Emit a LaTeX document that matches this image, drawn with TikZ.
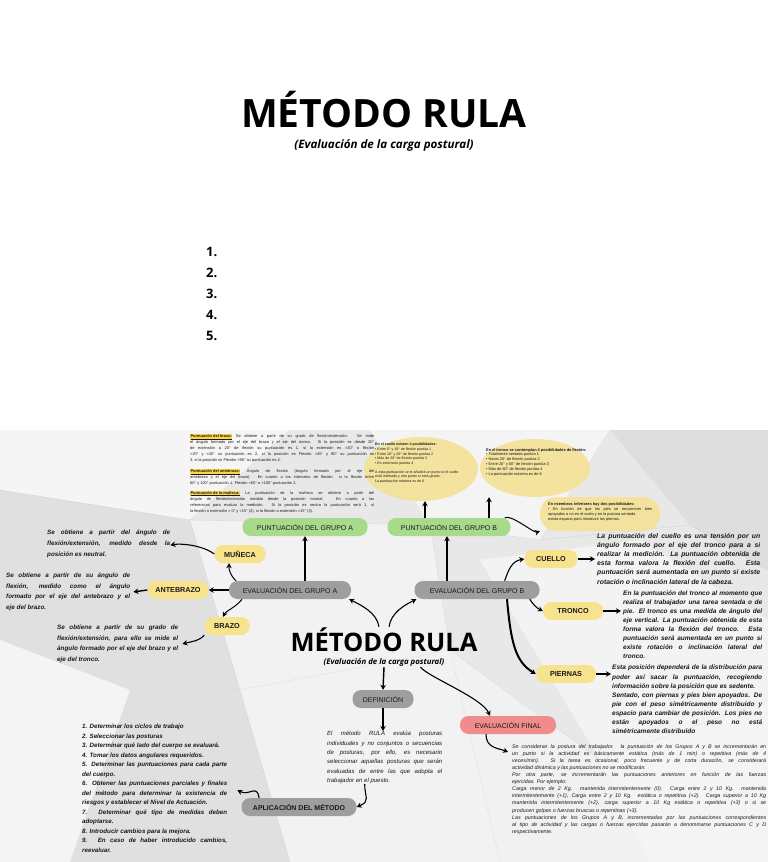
\documentclass[tikz,border=0pt]{standalone}
\usepackage{fontspec}
\setmainfont{Liberation Sans}
\newfontfamily\titlefont{Open Sans}
\usetikzlibrary{arrows.meta,shapes.geometric}
\hyphenpenalty=10000
\exhyphenpenalty=10000
\tolerance=10000
\definecolor{pyellow}{RGB}{247,226,142}
\definecolor{cyellow}{RGB}{244,226,150}
\definecolor{pgreen}{RGB}{168,218,140}
\definecolor{pgray}{RGB}{158,158,158}
\definecolor{pred}{RGB}{240,140,140}
\definecolor{hlyellow}{RGB}{250,215,70}
\definecolor{paper}{RGB}{232,232,232}
\definecolor{txt}{RGB}{25,25,25}
\newcommand{\hlh}[1]{{\setlength{\fboxsep}{0.4pt}\colorbox{hlyellow}{\textbf{\underline{#1}}}}}
\tikzset{
  pillbase/.style={rounded corners=8.5pt, minimum height=18pt, inner xsep=4pt, inner ysep=2pt, text=txt},
  ypill/.style={pillbase, fill=pyellow, font=\fontsize{7.2}{8}\selectfont\bfseries},
  gpill/.style={pillbase, fill=pgreen, font=\fontsize{7}{8}\selectfont},
  grpill/.style={pillbase, fill=pgray, font=\fontsize{7}{8}\selectfont},
  rpill/.style={pillbase, fill=pred, font=\fontsize{7}{8}\selectfont},
  desc/.style={anchor=north west, inner sep=0pt, align=justify, text=txt, font=\fontsize{6.3}{9.6}\selectfont\bfseries\itshape},
  tiny/.style={anchor=north west, inner sep=0pt, align=justify, text=txt},
  arr/.style={-{Stealth[length=5pt,width=5.5pt]}, line width=1.4pt, black},
  blob/.style={ellipse, fill=cyellow, opacity=0.9, draw=none}
}
\begin{document}
\begin{tikzpicture}[x=1pt,y=-1pt]
\path[use as bounding box] (0,0) rectangle (768,862);
\fill[white] (0,0) rectangle (768,430);
% ---------- top page ----------
\node[font=\titlefont\fontsize{39}{40}\selectfont\bfseries, text=black] (ttitle) at (384,110) {MÉTODO RULA};
\node[font=\titlefont\fontsize{11.6}{12}\selectfont\bfseries\itshape, text=black] (tsub) at (384,145) {(Evaluación de la carga postural)};
\foreach \i/\yy in {1/252,2/273,3/294,4/315,5/336}{
  \node[font=\titlefont\fontsize{13}{14}\selectfont\bfseries, anchor=west, inner sep=0pt] (num\i) at (206,\yy) {\i.};
}
% ---------- paper background ----------
\fill[paper] (0,430) rectangle (768,862);
\begin{scope}
\clip (0,430) rectangle (768,862);
\fill[white, opacity=0.6] (0,430) -- (290,430) -- (190,520) -- (0,490) -- cycle;
\fill[white, opacity=0.55] (370,430) -- (610,430) -- (540,540) -- (430,525) -- cycle;
\fill[black, opacity=0.04] (610,430) -- (768,430) -- (768,570) -- (690,525) -- cycle;
\fill[white, opacity=0.55] (0,640) -- (130,690) -- (70,862) -- (0,862) -- cycle;
\fill[white, opacity=0.45] (240,690) -- (450,650) -- (500,862) -- (290,862) -- cycle;
\fill[white, opacity=0.55] (600,760) -- (768,700) -- (768,862) -- (650,862) -- cycle;
\fill[black, opacity=0.03] (130,690) -- (240,690) -- (290,862) -- (70,862) -- cycle;
\fill[white, opacity=0.5] (480,560) -- (640,540) -- (768,620) -- (768,700) -- (600,760) -- cycle;
\fill[black, opacity=0.03] (0,490) -- (190,520) -- (240,690) -- (130,690) -- (0,640) -- cycle;
\fill[white, opacity=0.45] (190,520) -- (430,525) -- (450,650) -- (240,690) -- cycle;
\fill[white, opacity=0.4] (500,862) -- (450,650) -- (600,760) -- (650,862) -- cycle;
\draw[gray, opacity=0.18, line width=0.4pt] (0,490) -- (190,520) -- (430,525) -- (540,540) -- (690,525) -- (768,570);
\draw[gray, opacity=0.15, line width=0.4pt] (130,690) -- (240,690) -- (450,650) -- (600,760) -- (768,700);
\draw[gray, opacity=0.15, line width=0.4pt] (190,520) -- (240,690) -- (290,862);
\draw[gray, opacity=0.15, line width=0.4pt] (430,525) -- (450,650) -- (500,862);
\draw[gray, opacity=0.15, line width=0.4pt] (290,430) -- (190,520);
\draw[gray, opacity=0.15, line width=0.4pt] (610,430) -- (540,540);
\end{scope}
% ---------- yellow blobs ----------
\node[blob, minimum width=114pt, minimum height=64pt] (cc) at (421,469) {};
\node[blob, minimum width=110pt, minimum height=58pt] (tc) at (535,468) {};
\node[fill=cyellow, opacity=0.9, rounded corners=16pt, minimum width=120pt, minimum height=34pt] (pc) at (600,514) {};
% text in blobs
\node[tiny, text width=98pt, font=\fontsize{3.6}{4.6}\selectfont] (cct) at (375,443) {\textbf{En el cuello existen 4 posibilidades:}\\
\textbullet\ Entre 0° y 10° de flexión puntúa 1\\
\textbullet\ Entre 10° y 20° de flexión puntúa 2\\
\textbullet\ Más de 20° de flexión puntúa 3\\
\textbullet\ En extensión puntúa 4\\[4.5pt]
A esta puntuación se le añadirá un punto si el cuello\\
está inclinado y otro punto si está girado.\\
La puntuación máxima es de 6.};
\node[tiny, text width=100pt, font=\fontsize{3.9}{4.8}\selectfont] (tct) at (486,448) {\textbf{En el tronco se contemplan 4 posibilidades de flexión:}\\
\textbullet\ Totalmente sentado puntúa 1\\
\textbullet\ Hasta 20° de flexión puntúa 2\\
\textbullet\ Entre 20° y 60° de flexión puntúa 3\\
\textbullet\ Más de 60° de flexión puntúa 4\\
\textbullet\ La puntuación máxima es de 6};
\node[tiny, text width=104pt, font=\fontsize{3.9}{5}\selectfont] (pct) at (548,502) {\textbf{En miembros inferiores hay dos posibilidades:}\\
\textbullet\ En función de que los pies se encuentren bien\linebreak apoyados o no en el suelo y en la postura sentada\\ exista espacio para introducir las piernas.};
% upper-left scores text
\node[tiny, text width=184pt, font=\fontsize{3.95}{6}\selectfont] (sco) at (190,434) {\hlh{Puntuación del brazo:} Se obtiene a partir de su grado de flexión/extensión. Se mide\linebreak el ángulo formado por el eje del brazo y el eje del tronco. Si la posición es desde 20°\linebreak de extensión a 20° de flexión su puntuación es 1, si la extensión es >20° o flexión\linebreak >20° y <45° su puntuación es 2, si la posición es Flexión >45° y 90° su puntuación es\linebreak 3, si la posición es Flexión >90° su puntuación es 4.\\[5pt]
\hlh{Puntuación del antebrazo:} Ángulo de flexión (ángulo formado por el eje del\linebreak antebrazo y el eje del brazo). En cuanto a los intervalos de flexión: si la flexión entre\linebreak 60° y 100° puntuación 1. Flexión <60° o >100° puntuación 2.\\[3.5pt]
\hlh{Puntuación de la muñeca:} La puntuación de la muñeca se obtiene a partir del\linebreak ángulo de flexión/extensión medido desde la posición neutral. En cuanto a las\linebreak referencias para evaluar la medición. Si la posición es neutra la puntuación será 1, si\linebreak la flexión o extensión > 0° y <15° (2), si la flexión o extensión >15° (3).};
% ---------- pills ----------
\node[gpill, minimum width=125pt] (pa) at (305,527) {PUNTUACIÓN DEL GRUPO A};
\node[gpill, minimum width=123pt] (pb) at (449,527) {PUNTUACIÓN DEL GRUPO B};
\node[ypill, minimum width=51pt] (mun) at (240,554) {MUÑECA};
\node[grpill, minimum width=122pt] (ea) at (290,590) {EVALUACIÓN DEL GRUPO A};
\node[grpill, minimum width=125pt] (eb) at (477,590) {EVALUACIÓN DEL GRUPO B};
\node[ypill, minimum width=61pt] (ant) at (178,590) {ANTEBRAZO};
\node[ypill, minimum width=45pt] (bra) at (227,626) {BRAZO};
\node[ypill, minimum width=53pt] (cue) at (551,559) {CUELLO};
\node[ypill, minimum width=60pt] (tro) at (573,611) {TRONCO};
\node[ypill, minimum width=60pt] (pie) at (566,674) {PIERNAS};
\node[grpill, minimum width=61pt] (def) at (383,699) {DEFINICIÓN};
\node[rpill, minimum width=96pt] (ef) at (508,725) {EVALUACIÓN FINAL};
\node[grpill, minimum width=115pt, font=\fontsize{7}{8}\selectfont\bfseries] (apl) at (299,807) {APLICACIÓN DEL MÉTODO};
% centre title
\node[font=\titlefont\fontsize{25.5}{26}\selectfont\bfseries, text=black, inner sep=1pt] (mr) at (384,640) {MÉTODO RULA};
\node[font=\titlefont\fontsize{7.8}{8}\selectfont\bfseries\itshape, text=black, inner sep=1pt] (mrs) at (384,662) {(Evaluación de la carga postural)};
% ---------- descriptions ----------
\node[desc, text width=123pt, font=\fontsize{6.3}{11}\selectfont\bfseries\itshape] (mund) at (47,530) {Se obtiene a partir del ángulo de\linebreak flexión/extensión, medido desde la\linebreak posición es neutral.};
\node[desc, text width=124pt, font=\fontsize{6.3}{10.5}\selectfont\bfseries\itshape] (antd) at (6,573) {Se obtiene a partir de su ángulo de\linebreak flexión, medido como el ángulo\linebreak formado por el eje del antebrazo y el\linebreak eje del brazo.};
\node[desc, text width=121pt, font=\fontsize{6.3}{10.5}\selectfont\bfseries\itshape] (brad) at (57,625) {Se obtiene a partir de su grado de\linebreak flexión/extensión, para ello se mide el\linebreak ángulo formado por el eje del brazo y el\linebreak eje del tronco.};
\node[desc, text width=163pt, font=\fontsize{6.8}{9.2}\selectfont\bfseries\itshape] (cued) at (597,533) {La puntuación del cuello es una tensión por un\linebreak ángulo formado por el eje del tronco para a si\linebreak realizar la medición. La puntuación obtenida de\linebreak esta forma valora la flexión del cuello. Esta\linebreak puntuación será aumentada en un punto si existe\linebreak rotación o inclinación lateral de la cabeza.};
\node[desc, text width=139pt, font=\fontsize{6.5}{8.9}\selectfont\bfseries\itshape] (trod) at (623,591) {En la puntuación del tronco al momento que\linebreak realiza el trabajador una tarea sentada o de\linebreak pie. El tronco es una medida de ángulo del\linebreak eje vertical. La puntuación obtenida de esta\linebreak forma valora la flexión del tronco. Esta\linebreak puntuación será aumentada en un punto si\linebreak existe rotación o inclinación lateral del\linebreak tronco.};
\node[desc, text width=150pt, font=\fontsize{6.5}{9.1}\selectfont\bfseries\itshape] (pied) at (612,665) {Esta posición dependerá de la distribución para\linebreak poder así sacar la puntuación, recogiendo\linebreak información sobre la posición que es sedente.\\ Sentado, con piernas y pies bien apoyados. De\linebreak pie con el peso simétricamente distribuido y\linebreak espacio para cambiar de posición. Los pies no\linebreak están apoyados o el peso no está\linebreak simétricamente distribuido};
\node[desc, text width=115pt, font=\fontsize{6}{9.4}\selectfont\itshape] (deft) at (327,731) {El método RULA evalúa posturas\linebreak individuales y no conjuntos o secuencias\linebreak de posturas, por ello, es necesario\linebreak seleccionar aquellas posturas que serán\linebreak evaluadas de entre las que adopta el\linebreak trabajador en el puesto.};
\node[desc, text width=254pt, font=\fontsize{5.3}{7.1}\selectfont\itshape] (eft) at (512,744) {Se consideran la postura del trabajador. la puntuación de los Grupos A y B se incrementarán en\linebreak un punto si la actividad es básicamente estática (más de 1 min) o repetitiva (más de 4\linebreak veces/min). Si la tarea es ocasional, poco frecuente y de corta duración, se considerará\linebreak actividad dinámica y las puntuaciones no se modificarán.\\
Por otra parte, se incrementarán las puntuaciones anteriores en función de las fuerzas\linebreak ejercidas. Por ejemplo:\\
Carga menor de 2 Kg. mantenida intermitentemente (0). Carga entre 2 y 10 Kg. mantenida\linebreak intermitentemente (+1), Carga entre 2 y 10 Kg. estática o repetitiva (+2). Carga superior a 10 Kg\linebreak mantenida intermitentemente (+2), carga superior a 10 Kg estática o repetitiva (+3) o si se\linebreak producen golpes o fuerzas bruscas o repentinas (+3).\\
Las puntuaciones de los Grupos A y B, incrementadas por las puntuaciones correspondientes\linebreak al tipo de actividad y las cargas o fuerzas ejercidas pasarán a denominarse puntuaciones C y D\linebreak respectivamente.};
\node[desc, text width=145pt, font=\fontsize{6.2}{9.5}\selectfont\bfseries\itshape] (lst) at (82,724) {1. Determinar los ciclos de trabajo\\
2. Seleccionar las posturas\\
3. Determinar qué lado del cuerpo se evaluará.\\
4. Tomar los datos angulares requeridos.\\
5. Determinar las puntuaciones para cada parte\linebreak del cuerpo.\\
6. Obtener las puntuaciones parciales y finales\linebreak del método para determinar la existencia de\linebreak riesgos y establecer el Nivel de Actuación.\\
7. Determinar qué tipo de medidas deben\linebreak adoptarse.\\
8. Introducir cambios para la mejora.\\
9. En caso de haber introducido cambios,\linebreak reevaluar.};
% ---------- connectors ----------
\draw[arr] (pa.south |- ea.north) -- (pa.south);
\draw[arr] ([xshift=-2pt]pb.south |- eb.north) -- ([xshift=-2pt]pb.south);
\draw[arr] ([xshift=-24pt]pb.north) -- ([xshift=-24pt]pb.north |- cc.south);
\draw[arr] ([xshift=40pt]pb.north) -- ([xshift=40pt]pb.north |- tc.south);
\draw[arr, line width=1pt] ([xshift=-6pt]pb.north east) .. controls +(6,-4) and +(-6,2) .. (pc.south west);
\draw[arr, line width=1pt] ([xshift=-54pt]ea.north) .. controls +(-6,-6) and +(0,7) .. ([xshift=-11pt]mun.south);
\draw[arr] (ea.west) -- (ant.east);
\draw[arr, line width=1pt] ([xshift=-48pt]ea.south) .. controls +(-6,8) and +(3,-6) .. ([xshift=-4pt]bra.north);
\draw[arr, line width=1.1pt] (mun.west) .. controls +(-12,-9) and +(10,-2) .. ([yshift=-1pt]mund.east);
\draw[arr] (ant.west) -- ([xshift=3pt]antd.east);
\draw[arr, line width=1.1pt] (bra.south west) .. controls +(-6,6) and +(12,-3) .. ([xshift=4pt]brad.east);
\draw[arr, line width=1.1pt] ([xshift=-5pt]mr.north) .. controls +(-2,-14) and +(12,6) .. ([xshift=-2pt]ea.south east);
\draw[arr, line width=1.1pt] ([xshift=5pt]mr.north) .. controls +(2,-14) and +(-12,6) .. ([xshift=2pt]eb.south west);
\draw[arr, line width=1.1pt] ([xshift=-35pt]eb.north east) .. controls +(4,-12) and +(-12,2) .. (cue.west);
\draw[arr, line width=1.1pt] ([xshift=-10pt]eb.south east) .. controls +(4,6) and +(-6,-3) .. (tro.west);
\draw[arr, line width=2pt] ([xshift=30pt]eb.south) .. controls +(4,45) and +(-20,-12) .. (pie.west);
\draw[arr] (cue.east) -- ([xshift=-2pt]cued.west |- cue.east);
\draw[arr] (tro.east) -- ([xshift=-2pt]trod.west |- tro.east);
\draw[arr] (pie.east) -- ([xshift=-1pt]pied.west |- pie.east);
\draw[arr] (mrs.south) -- (def.north);
\draw[arr, line width=1.1pt] ([xshift=-25pt]mrs.south east) .. controls +(8,10) and +(-8,-18) .. ([xshift=-18pt]ef.north);
\draw[arr] (def.south) -- (deft.north -| def.south);
\draw[arr, line width=1.1pt] ([xshift=-20pt]deft.south) .. controls +(0,14) and +(14,-6) .. (apl.east);
\draw[arr, line width=1.1pt] ([xshift=-40pt]apl.north) .. controls +(-2,-14) and +(12,6) .. ([xshift=10pt,yshift=-2pt]lst.east);
\draw[arr, line width=1.1pt] ([xshift=-22pt]ef.south) .. controls +(0,14) and +(-10,-4) .. ([xshift=-4pt,yshift=-8pt]eft.north west);
\end{tikzpicture}
\end{document}
